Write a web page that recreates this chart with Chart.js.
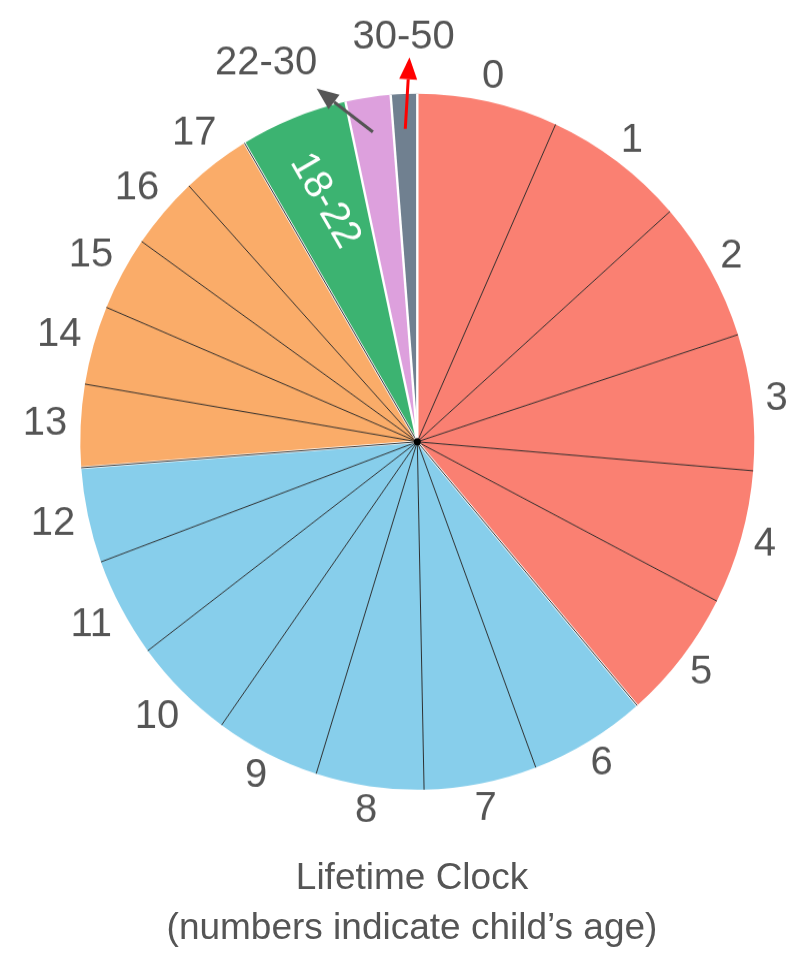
<!DOCTYPE html>
<html>
<head>
<meta charset="utf-8">
<script src="https://cdn.jsdelivr.net/npm/chart.js@4.4.1/dist/chart.umd.min.js"></script>
<style>
  html, body { margin: 0; padding: 0; background: #fff; }
  body { width: 804px; height: 956px; position: relative; overflow: hidden; font-family: "Liberation Sans", Arial, sans-serif; }
  /* the reference pie is a little taller than wide, so stretch the canvas */
  #wrap { position: absolute; left: 0; top: 0; width: 804px; height: 926px; transform: scaleY(1.0326); transform-origin: 0 0; }
  #title { position: absolute; left: 0; top: 852px; width: 824px; text-align: center; font-size: 37px; line-height: 50px; color: #555; }
</style>
</head>
<body>
<div id="wrap"><canvas id="clock" width="804" height="926"></canvas></div>
<div id="title">Lifetime Clock<br>(numbers indicate child’s age)</div>
<script>
  const ages = ["0", "1", "2", "3", "4", "5", "6", "7", "8", "9", "10", "11", "12",
                "13", "14", "15", "16", "17", "18-22", "22-30", "30-50"];

  // share of the clock (%) per age bucket
  const shares = [6.73, 6.76, 6.53, 6.31, 6.24, 6.12,
                  5.59, 5.40, 5.17, 5.01, 4.89, 4.64, 4.42,
                  3.84, 3.66, 3.45, 3.39, 3.28,
                  5.15, 2.16, 1.26];

  const sliceGroup = ["early", "early", "early", "early", "early", "early",
                      "school", "school", "school", "school", "school", "school", "school",
                      "teen", "teen", "teen", "teen", "teen",
                      "college", "twenties", "later"];

  const groupColors = {
    early: "#FA8072",
    school: "#87CEEB",
    teen: "#FAAC69",
    college: "#3CB371",
    twenties: "#DDA0DD",
    later: "#708090"
  };

  const STRETCH = 1.0326;
  const LABEL_FONT = "40px 'Liberation Sans', Arial, sans-serif";
  const yearly = ages.map(a => !a.includes("-"));

  // arrows for the two thin slices: [degrees clockwise from top, radius factor]
  const callouts = [
    { idx: 19, color: "#555555", tip: [343.6, 1.058], label: [337.6, 1.177] },
    { idx: 20, color: "#ff0000", tip: [358.8, 1.105], label: [358.0, 1.163] }
  ];

  /* ---------------------------------------------------
      DECORATION PLUGIN (separators, labels, arrows)
  ---------------------------------------------------- */
  function drawLine(ctx, x1, y1, x2, y2, color, width) {
    ctx.beginPath();
    ctx.moveTo(x1, y1);
    ctx.lineTo(x2, y2);
    ctx.strokeStyle = color;
    ctx.lineWidth = width;
    ctx.stroke();
  }

  // text drawn un-stretched
  function drawText(ctx, text, x, y, align, color, rot) {
    ctx.save();
    ctx.translate(x, y);
    ctx.scale(1, 1 / STRETCH);
    if (rot) ctx.rotate(rot);
    ctx.font = LABEL_FONT;
    ctx.fillStyle = color;
    ctx.textAlign = align;
    ctx.textBaseline = "middle";
    ctx.fillText(text, 0, 0);
    ctx.restore();
  }

  function drawArrow(ctx, from, to, color) {
    ctx.save();
    ctx.scale(1, 1 / STRETCH);
    const x1 = from.x, y1 = from.y * STRETCH;
    const x2 = to.x, y2 = to.y * STRETCH;
    const ang = Math.atan2(y2 - y1, x2 - x1);
    const headLen = 22, headHalf = 9;
    const bx = x2 - headLen * Math.cos(ang), by = y2 - headLen * Math.sin(ang);
    drawLine(ctx, x1, y1, bx, by, color, 3);
    ctx.beginPath();
    ctx.moveTo(x2, y2);
    ctx.lineTo(bx + headHalf * Math.sin(ang), by - headHalf * Math.cos(ang));
    ctx.lineTo(bx - headHalf * Math.sin(ang), by + headHalf * Math.cos(ang));
    ctx.closePath();
    ctx.fillStyle = color;
    ctx.fill();
    ctx.restore();
  }

  const clockDecor = {
    id: "clockDecor",
    afterDatasetsDraw(chart) {
      const ctx = chart.ctx;
      const arcs = chart.getDatasetMeta(0).data;
      const n = arcs.length;
      const cx = arcs[0].x, cy = arcs[0].y, R = arcs[0].outerRadius;
      const at = (a, f) => ({ x: cx + R * f * Math.cos(a), y: cy + R * f * Math.sin(a) });
      const fromTop = (deg) => (deg - 90) * Math.PI / 180;
      const mid = (arc) => (arc.startAngle + arc.endAngle) / 2;

      ctx.save();

      // slice separators
      arcs.forEach((arc, i) => {
        const prev = (i - 1 + n) % n;
        const p = at(arc.startAngle, 1);
        if (sliceGroup[prev] !== sliceGroup[i]) drawLine(ctx, cx, cy, p.x, p.y, "#ffffff", 2.4);
        if (yearly[prev]) drawLine(ctx, cx, cy, p.x, p.y, "#1e1e1e", 0.9);
      });

      // hub
      ctx.beginPath();
      ctx.arc(cx, cy, 3.5, 0, Math.PI * 2);
      ctx.fillStyle = "#000";
      ctx.fill();

      // yearly labels around the rim, centred just outside the edge
      ctx.font = LABEL_FONT;
      arcs.forEach((arc, i) => {
        if (!yearly[i]) return;
        const w = ctx.measureText(ages[i]).width;
        const p = at(mid(arc), 1.04 + w / 2 / R);
        drawText(ctx, ages[i], p.x, p.y, "center", "#555555");
      });

      // 18-22 inside its slice
      const g = at(mid(arcs[18]), 0.745);
      drawText(ctx, ages[18], g.x, g.y, "center", "#ffffff", Math.PI / 3);

      // callouts for the thin slices
      callouts.forEach(c => {
        const start = at(mid(arcs[c.idx]), 0.9);
        const tip = at(fromTop(c.tip[0]), c.tip[1]);
        const lab = at(fromTop(c.label[0]), c.label[1]);
        drawArrow(ctx, start, tip, c.color);
        drawText(ctx, ages[c.idx], lab.x, lab.y, "center", "#555555");
      });

      ctx.restore();
    }
  };

  /* ---------------------------------------------------
      CHART
  ---------------------------------------------------- */
  new Chart(document.getElementById("clock").getContext("2d"), {
    type: "pie",
    data: {
      labels: ages,
      datasets: [{
        data: shares,
        backgroundColor: sliceGroup.map(g => groupColors[g]),
        borderWidth: 0,
        hoverBorderWidth: 0,
        hoverOffset: 0
      }]
    },
    options: {
      responsive: false,
      animation: false,
      layout: { padding: { left: 80.3, right: 49.7, top: 90.8, bottom: 161.2 } },
      plugins: {
        legend: { display: false },
        tooltip: { enabled: false },
        title: { display: false }
      }
    },
    plugins: [clockDecor]
  });
</script>
</body>
</html>
